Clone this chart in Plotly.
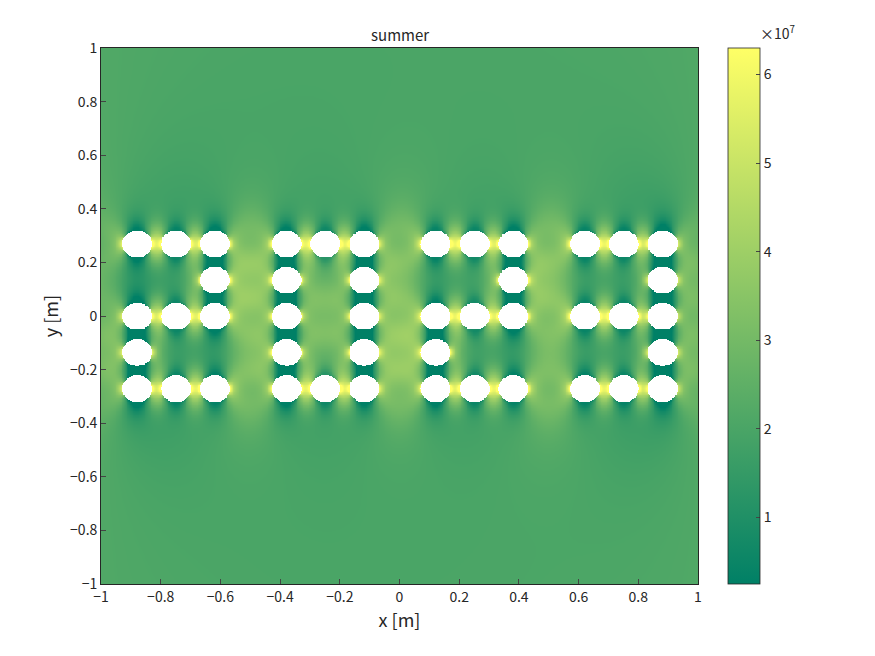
import numpy as np
import plotly.graph_objects as go

title = "summer"
hole_x = [-0.88,-0.75,-0.62, -0.88,-0.75,-0.62, -0.62, -0.88, -0.88,-0.75,-0.62,
          -0.38,-0.25,-0.12, -0.38,-0.12, -0.38,-0.12, -0.38,-0.12, -0.38,-0.25,-0.12,
          0.12,0.25,0.38, 0.38, 0.12,0.25,0.38, 0.12, 0.12,0.25,0.38,
          0.62,0.75,0.88, 0.88, 0.62,0.75,0.88, 0.88, 0.62,0.75,0.88]
hole_y = [0.27,0.27,0.27, 0,0,0, 0.135, -0.135, -0.27,-0.27,-0.27,
          0.27,0.27,0.27, 0.135,0.135, 0,0, -0.135,-0.135, -0.27,-0.27,-0.27,
          0.27,0.27,0.27, 0.135, 0,0,0, -0.135, -0.27,-0.27,-0.27,
          0.27,0.27,0.27, 0.135, 0,0,0, -0.135, -0.27,-0.27,-0.27]
hole_r = 0.05
y_scale = 1.0
base_stress = 2.2e7
cmin, cmax = 0.25e7, 6.3e7
cb_ticks = [1e7, 2e7, 3e7, 4e7, 5e7, 6e7]
cb_text = ["1", "2", "3", "4", "5", "6"]
ax_ticks = [-1,-0.8,-0.6,-0.4,-0.2,0,0.2,0.4,0.6,0.8,1]
ax_text = ["\u22121","\u22120.8","\u22120.6","\u22120.4","\u22120.2","0","0.2","0.4","0.6","0.8","1"]

n = 700
xs = np.linspace(-1, 1, n)
ys = np.linspace(-1, 1, n)
X, Y = np.meshgrid(xs, ys)
S = np.ones_like(X)
inside = np.zeros_like(X, dtype=bool)
a2 = hole_r**2
for hx, hy in zip(hole_x, hole_y):
    dx = X - hx
    dy = (Y - hy) * y_scale
    r2 = dx**2 + dy**2
    th = np.arctan2(dy, dx)
    inside |= r2 < a2
    r2c = np.maximum(r2, a2)
    S += -a2/r2c*(-1.5*np.cos(2*th) + np.cos(4*th)) + 1.5*a2**2/r2c**2*np.cos(4*th)
Z = np.clip(base_stress * S, cmin, cmax)
Z[inside] = np.nan

summer = [[0, "rgb(0,128,102)"], [1, "rgb(255,255,102)"]]
font = "Noto Sans CJK JP"
fig = go.Figure(go.Heatmap(
    x=xs, y=ys, z=Z, colorscale=summer, zmin=cmin, zmax=cmax, zsmooth="best",
    colorbar=dict(x=1.0, xanchor="left", xpad=30, y=0.5, len=1.0, lenmode="fraction",
                  yanchor="middle", ypad=0,
                  thickness=32, tickvals=cb_ticks, ticktext=cb_text, ticks="inside",
                  ticklen=4, outlinewidth=0.8, outlinecolor="#262626",
                  tickfont=dict(size=14, color="#262626"))))
fig.update_layout(
    width=875, height=656, paper_bgcolor="white", plot_bgcolor="white",
    margin=dict(l=93, r=185, t=40, b=80, autoexpand=False),
    font=dict(family=font, color="#262626", size=15),
    annotations=[
        dict(text=title, x=0.5, y=1.0, xref="paper", yref="paper", xanchor="center",
             yanchor="bottom", yshift=1, showarrow=False, font=dict(size=15)),
        dict(text="\u00d710<sup>7</sup>", x=1.1, y=1.005, xref="paper", yref="paper",
             xanchor="left", yanchor="bottom", showarrow=False, font=dict(size=14))],
)
axcommon = dict(range=[-1, 1], tickvals=ax_ticks, ticktext=ax_text, ticks="inside",
                ticklen=5, showline=True, linecolor="#262626", linewidth=0.8,
                mirror=True, showgrid=False, zeroline=False, tickfont=dict(size=14),
                automargin=False)
fig.update_xaxes(**axcommon, title=dict(text="x [m]", standoff=2))
fig.update_yaxes(**axcommon, title=dict(text="y [m]", standoff=6))
fig.write_html("out.html")
